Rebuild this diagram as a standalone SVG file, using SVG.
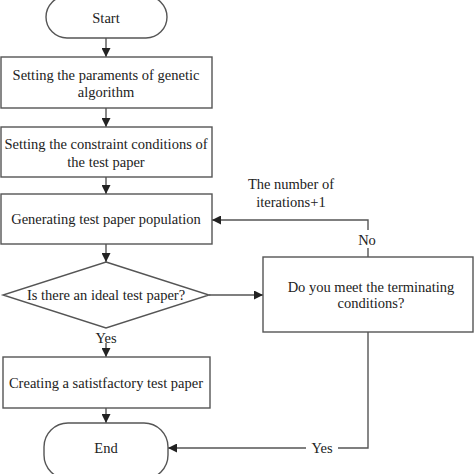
<svg xmlns="http://www.w3.org/2000/svg" width="474" height="474" viewBox="0 0 474 474">
<defs>
<marker id="arr" viewBox="0 0 10 10" refX="10" refY="5" markerWidth="9" markerHeight="9" markerUnits="userSpaceOnUse" orient="auto">
<path d="M0,0 L10,5 L0,10 z" fill="#222"/>
</marker>
<style>
.shape{fill:#fff;stroke:#555;stroke-width:1.4}
.line{fill:none;stroke:#555;stroke-width:1.4}
text{font-family:"Liberation Serif","Times New Roman",serif;font-size:14.5px;fill:#222;text-anchor:middle}
</style>
</defs>
<rect width="474" height="474" fill="#fff"/>
<g id="connectors">
<line class="line" x1="106" y1="38" x2="106" y2="57" marker-end="url(#arr)"/>
<line class="line" x1="106" y1="108" x2="106" y2="127" marker-end="url(#arr)"/>
<line class="line" x1="106" y1="177" x2="106" y2="194" marker-end="url(#arr)"/>
<line class="line" x1="106" y1="244" x2="106" y2="262" marker-end="url(#arr)"/>
<line class="line" x1="106" y1="343" x2="106" y2="357" marker-end="url(#arr)"/>
<line class="line" x1="106" y1="408" x2="106" y2="423" marker-end="url(#arr)"/>
<line class="line" x1="209" y1="295" x2="263" y2="295" marker-end="url(#arr)"/>
<polyline class="line" points="368,257 368,220 212,220" marker-end="url(#arr)"/>
<polyline class="line" points="368,332 368,448 168,448" marker-end="url(#arr)"/>
<rect x="306" y="440" width="32" height="16" fill="#fff"/>
<rect x="355" y="230" width="26" height="18" fill="#fff"/>
<text x="322" y="453">Yes</text>
<text x="367" y="245">No</text>
<text x="106" y="343">Yes</text>
<text x="291" y="189">The number of</text>
<text x="291" y="207">iterations+1</text>
</g>
<g id="start">
<rect class="shape" x="46" y="-4" width="121" height="42" rx="21"/>
<text x="106" y="23">Start</text>
</g>
<g id="set-params">
<rect class="shape" x="1" y="57" width="211" height="51"/>
<text x="106" y="80">Setting the paraments of genetic</text>
<text x="106" y="97">algorithm</text>
</g>
<g id="set-constraints">
<rect class="shape" x="1" y="127" width="211" height="50"/>
<text x="106" y="149">Setting the constraint conditions of</text>
<text x="106" y="167">the test paper</text>
</g>
<g id="generate">
<rect class="shape" x="1" y="194" width="211" height="50"/>
<text x="106" y="224">Generating test paper population</text>
</g>
<g id="decision">
<polygon class="shape" points="106,262 209,295 106,328 3,295"/>
<text x="106" y="300">Is there an ideal test paper?</text>
</g>
<g id="terminate">
<rect class="shape" x="263" y="257" width="210" height="75"/>
<text x="371" y="292">Do you meet the terminating</text>
<text x="371" y="308">conditions?</text>
</g>
<g id="create">
<rect class="shape" x="3" y="357" width="207" height="51"/>
<text x="106" y="388">Creating a satistfactory test paper</text>
</g>
<g id="end">
<rect class="shape" x="44" y="423" width="124" height="56" rx="24"/>
<text x="106" y="453">End</text>
</g>
</svg>
